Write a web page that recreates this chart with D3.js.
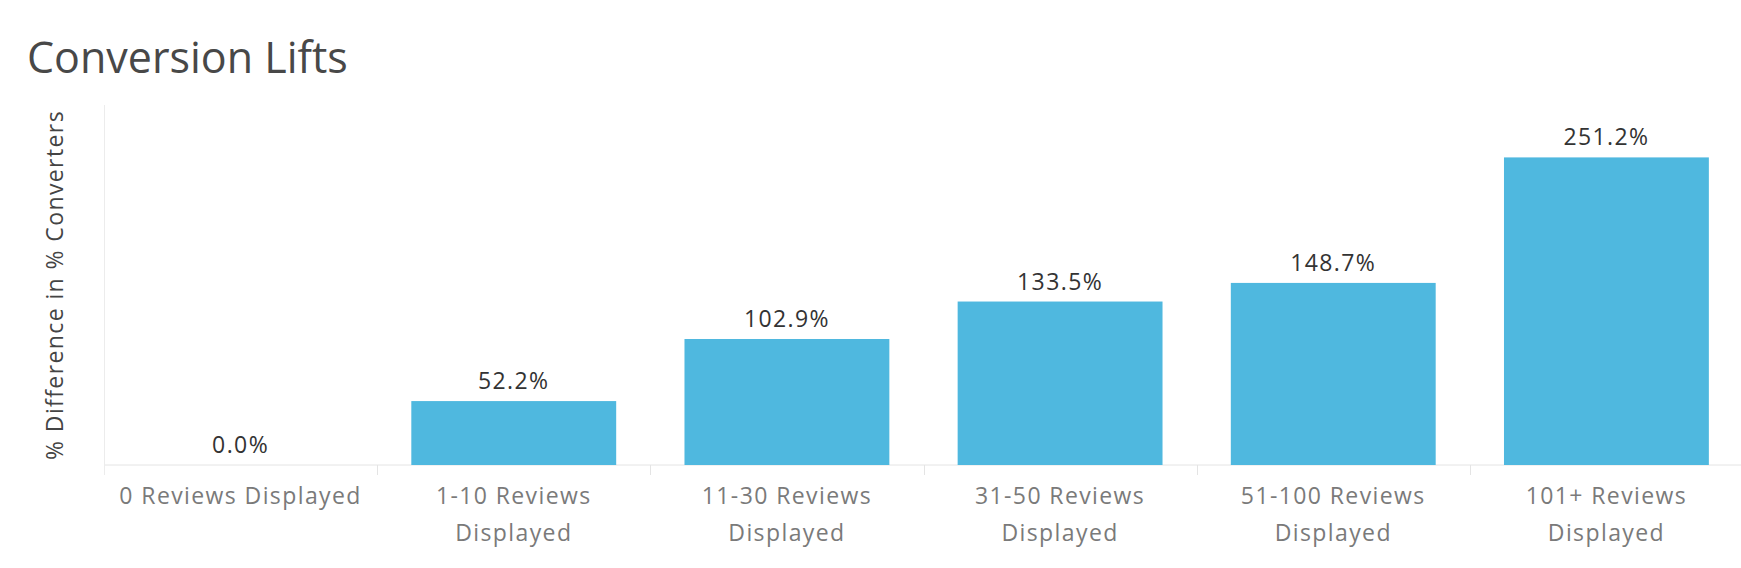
<!DOCTYPE html>
<html>
<head>
<meta charset="utf-8">
<script src="https://cdn.jsdelivr.net/npm/d3@7"></script>
<style>
  html, body { margin: 0; padding: 0; background: #fff; }
  svg { display: block; }
</style>
</head>
<body>
<div id="chart"></div>
<script>
/* Conversion Lifts — % difference in % converters by review count */

var categories = [
  ['0 Reviews Displayed'],
  ['1-10 Reviews', 'Displayed'],
  ['11-30 Reviews', 'Displayed'],
  ['31-50 Reviews', 'Displayed'],
  ['51-100 Reviews', 'Displayed'],
  ['101+ Reviews', 'Displayed']
];
var lifts = [0.0, 52.2, 102.9, 133.5, 148.7, 251.2];
var yMax = 294;

var W = 1741, H = 568;
var FONT = '"Open Sans", "Noto Sans", sans-serif';
var TRACK = '1.4px';   // Tableau's font runs wider than Open Sans
var margin = { top: 105, right: -2, bottom: 103, left: 104 };
var plotW = W - margin.left - margin.right,
    plotH = H - margin.top - margin.bottom;

var svg = d3.select('#chart').append('svg')
  .attr('width', W).attr('height', H);

/* title */
svg.append('text')
  .attr('x', 27).attr('y', 73)
  .attr('font-family', FONT).attr('font-size', 43)
  .attr('fill', '#484848')
  .text('Conversion Lifts');

var g = svg.append('g')
  .attr('transform', 'translate(' + margin.left + ',' + margin.top + ')');

var x = d3.scaleBand()
  .domain(d3.range(categories.length))
  .range([0, plotW])
  .paddingInner(0.25).paddingOuter(0.125);

var y = d3.scaleLinear().domain([0, yMax]).range([plotH, 0]);

/* baseline + left axis line */
g.append('line')
  .attr('x1', 0).attr('x2', plotW)
  .attr('y1', y(0)).attr('y2', y(0))
  .attr('stroke', '#e4e4e4').attr('stroke-width', 1);
g.append('line')
  .attr('x1', 0.5).attr('x2', 0.5)
  .attr('y1', 0).attr('y2', y(0) + 10)
  .attr('stroke', '#ececec').attr('stroke-width', 1);

/* category separators */
d3.range(1, categories.length).forEach(function (i) {
  var sx = Math.round(x.step() * i) + 0.5;
  g.append('line')
    .attr('x1', sx).attr('x2', sx)
    .attr('y1', y(0)).attr('y2', y(0) + 10)
    .attr('stroke', '#e4e4e4');
});

/* bars */
g.selectAll('rect.bar')
  .data(lifts)
  .enter().append('rect')
  .attr('class', 'bar')
  .attr('x', function (d, i) { return x(i); })
  .attr('y', function (d) { return y(d); })
  .attr('width', x.bandwidth())
  .attr('height', function (d) { return y(0) - y(d); })
  .attr('fill', '#4fb8df');

/* value labels */
g.selectAll('text.val')
  .data(lifts)
  .enter().append('text')
  .attr('class', 'val')
  .attr('x', function (d, i) { return x(i) + x.bandwidth() / 2; })
  .attr('y', function (d) { return y(d) - 12; })
  .attr('text-anchor', 'middle')
  .attr('font-family', FONT).attr('font-size', 23)
  .style('letter-spacing', TRACK)
  .attr('fill', '#333')
  .text(function (d) { return d.toFixed(1) + '%'; });

/* category labels (wrapped like Tableau) */
categories.forEach(function (lines, i) {
  var t = g.append('text')
    .attr('text-anchor', 'middle')
    .attr('font-family', FONT).attr('font-size', 23)
    .style('letter-spacing', TRACK)
    .attr('fill', '#7a7a7a');
  lines.forEach(function (ln, li) {
    t.append('tspan')
      .attr('x', x(i) + x.bandwidth() / 2)
      .attr('y', y(0) + 39 + li * 37)
      .text(ln);
  });
});

/* y axis title */
svg.append('text')
  .attr('transform', 'translate(63,' + (margin.top + plotH / 2) + ') rotate(-90)')
  .attr('text-anchor', 'middle')
  .attr('font-family', FONT).attr('font-size', 23)
  .style('letter-spacing', TRACK)
  .attr('fill', '#444')
  .text('% Difference in % Converters');
</script>
</body>
</html>
